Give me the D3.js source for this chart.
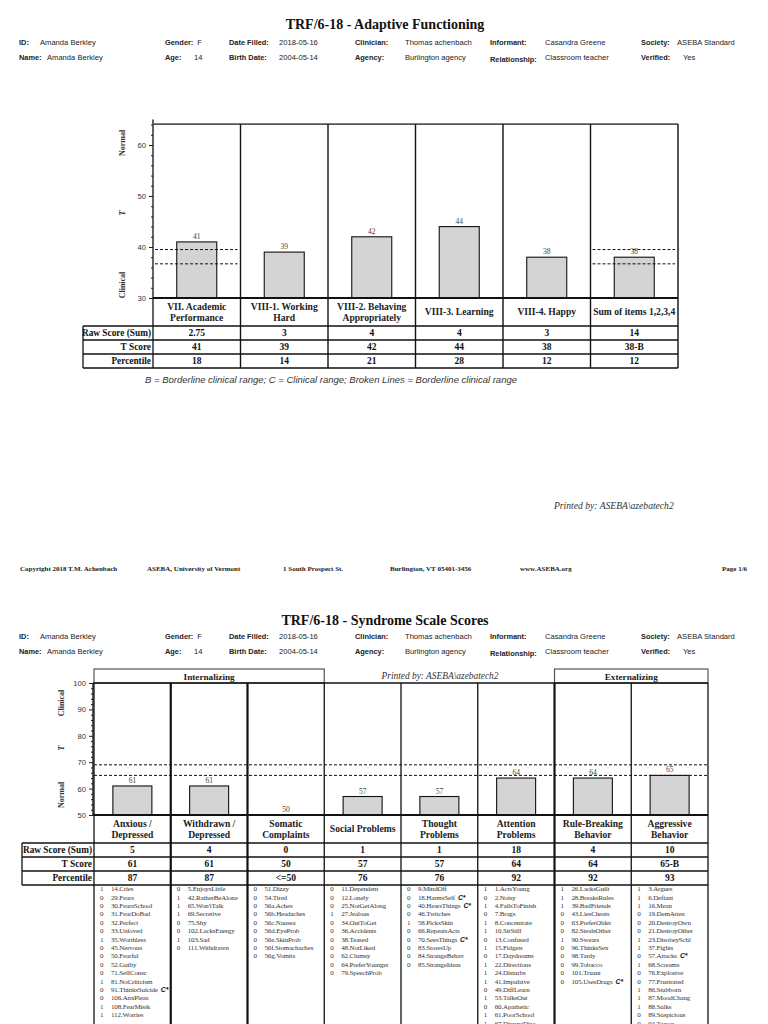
<!DOCTYPE html>
<html><head><meta charset="utf-8">
<script src="https://cdn.jsdelivr.net/npm/d3@7"></script>
<style>body{margin:0;background:#fff}svg{display:block}</style>
</head><body><svg id="c" width="768" height="1024"></svg>
<script>
// ---------------- DATA ----------------
const headerLabels1 = ["ID:","Gender:","Date Filled:","Clinician:","Informant:","Society:"];
const headerValues1 = ["Amanda Berkley","F","2018-05-16","Thomas achenbach","Casandra Greene","ASEBA Standard"];
const headerLabels2 = ["Name:","Age:","Birth Date:","Agency:","Relationship:","Verified:"];
const headerValues2 = ["Amanda Berkley","14","2004-05-14","Burlington agency","Classroom teacher","Yes"];
const rowLabels = ["Raw Score (Sum)","T Score","Percentile"];

const adaptiveCategories = [["VII. Academic","Performance"],["VIII-1. Working","Hard"],["VIII-2. Behaving","Appropriately"],["VIII-3. Learning"],["VIII-4. Happy"],["Sum of items 1,2,3,4"]];
const adaptiveT = [41,39,42,44,38,38];
const adaptiveRaw = ["2.75","3","4","4","3","14"];
const adaptiveTLabel = ["41","39","42","44","38","38-B"];
const adaptivePercentile = ["18","14","21","28","12","12"];
const adaptiveBorderline = [39.5,36.7];
const adaptiveBorderCols = [0,5];
const adaptiveTicks = [30,40,50,60];

const syndromeCategories = [["Anxious /","Depressed"],["Withdrawn /","Depressed"],["Somatic","Complaints"],["Social Problems"],["Thought","Problems"],["Attention","Problems"],["Rule-Breaking","Behavior"],["Aggressive","Behavior"]];
const syndromeT = [61,61,50,57,57,64,64,65];
const syndromeRaw = ["5","4","0","1","1","18","4","10"];
const syndromeTLabel = ["61","61","50","57","57","64","64","65-B"];
const syndromePercentile = ["87","87","<=50","76","76","92","92","93"];
const syndromeBorderline = [69,65];
const syndromeTicks = [50,60,70,80,90,100];
const groupNames = ["Internalizing","Externalizing"];
const groupSpans = [[0,3],[6,8]];

const itemsAnxDep = [["1","14.Cries"],["0","29.Fears"],["0","30.FearsSchool"],["0","31.FearDoBad"],["0","32.Perfect"],["0","33.Unloved"],["1","35.Worthless"],["0","45.Nervous"],["0","50.Fearful"],["0","52.Guilty"],["0","71.SelfConsc"],["1","81.NoCriticism"],["0","91.ThinksSuicide","C*"],["0","106.AnxPleas"],["1","108.FearMistk"],["1","112.Worries"]];
const itemsWithdrawn = [["0","5.EnjoysLittle"],["1","42.RatherBeAlone"],["1","65.Won'tTalk"],["1","69.Secretive"],["0","75.Shy"],["0","102.LacksEnergy"],["1","103.Sad"],["0","111.Withdrawn"]];
const itemsSomatic = [["0","51.Dizzy"],["0","54.Tired"],["0","56a.Aches"],["0","56b.Headaches"],["0","56c.Nausea"],["0","56d.EyeProb"],["0","56e.SkinProb"],["0","56f.Stomachaches"],["0","56g.Vomits"]];
const itemsSocial = [["0","11.Dependent"],["0","12.Lonely"],["0","25.NotGetAlong"],["1","27.Jealous"],["0","34.OutToGet"],["0","36.Accidents"],["0","38.Teased"],["0","48.NotLiked"],["0","62.Clumsy"],["0","64.PreferYounger"],["0","79.SpeechProb"]];
const itemsThought = [["0","9.MindOff"],["0","18.HarmsSelf","C*"],["0","40.HearsThings","C*"],["0","46.Twitches"],["1","58.PicksSkin"],["0","66.RepeatsActs"],["0","70.SeesThings","C*"],["0","83.StoresUp"],["0","84.StrangeBehav"],["0","85.StrangeIdeas"]];
const itemsAttention = [["1","1.ActsYoung"],["0","2.Noisy"],["1","4.FailsToFinish"],["0","7.Brags"],["1","8.Concentrate"],["1","10.SitStill"],["0","13.Confused"],["1","15.Fidgets"],["0","17.Daydreams"],["1","22.Directions"],["1","24.Disturbs"],["1","41.Impulsive"],["0","49.DiffLearn"],["1","53.TalksOut"],["0","60.Apathetic"],["1","61.PoorSchool"],["1","67.DisruptDisc"]];
const itemsRuleBreaking = [["1","26.LacksGuilt"],["1","28.BreaksRules"],["1","39.BadFriends"],["0","43.LiesCheats"],["0","63.PreferOlder"],["0","82.StealsOther"],["1","90.Swears"],["0","96.ThinksSex"],["0","98.Tardy"],["0","99.Tobacco"],["0","101.Truant"],["0","105.UsesDrugs","C*"]];
const itemsAggressive = [["1","3.Argues"],["1","6.Defiant"],["1","16.Mean"],["0","19.DemAtten"],["0","20.DestroyOwn"],["0","21.DestroyOther"],["1","23.DisobeySchl"],["1","37.Fights"],["0","57.Attacks","C*"],["1","68.Screams"],["0","76.Explosive"],["0","77.Frustrated"],["1","86.Stubborn"],["1","87.MoodChang"],["1","88.Sulks"],["0","89.Suspicious"],["0","94.Teases"]];
const syndromeItems = [itemsAnxDep,itemsWithdrawn,itemsSomatic,itemsSocial,itemsThought,itemsAttention,itemsRuleBreaking,itemsAggressive];

const footerTexts = ["Copyright 2018 T.M. Achenbach","ASEBA, University of Vermont","1 South Prospect St.","Burlington, VT 05401-3456","www.ASEBA.org","Page 1/6"];
const titles = ["TRF/6-18 - Adaptive Functioning","TRF/6-18 - Syndrome Scale Scores"];
const printedBy = "Printed by: ASEBA\\azebatech2";
const footnote = "B = Borderline clinical range; C = Clinical range; Broken Lines = Borderline clinical range";

// ---------------- DRAW ----------------
const SERIF = "'Liberation Serif','Times New Roman',serif";
const SANS = "'Liberation Sans',Arial,sans-serif";
const svg = d3.select("#c");
svg.append("rect").attr("width",768).attr("height",1024).attr("fill","#fff");

function header(g, yTitle, y1, y2, title){
  g.append("text").attr("x",385).attr("y",yTitle).attr("text-anchor","middle")
    .attr("font-family",SERIF).attr("font-weight","bold").attr("font-size",14).attr("fill","#111").text(title);
  const lx = [19,165,229,355,490,641];
  const vx = [[40,47],[194,194],[279,279],[405,405],[545,545],[677,683]];
  [[headerLabels1,headerValues1,y1],[headerLabels2,headerValues2,y2]].forEach(([L,V,y],r)=>{
    L.forEach((t,i)=>{
      const lab = g.append("text").attr("x",lx[i]).attr("y",y + (r===1&&i===4?1.5:0)).attr("font-family",SANS).attr("font-weight","bold")
        .attr("font-size",7.4).attr("fill","#222").text(t);
      const end = lx[i] + lab.node().getComputedTextLength() + 4;
      g.append("text").attr("x",Math.max(vx[i][r], end)).attr("y",y).attr("font-family",SANS)
        .attr("font-size",7.6).attr("fill","#222").text(V[i]);
    });
  });
}

function line(g,x1,y1,x2,y2,w,c,dash){
  const l = g.append("line").attr("x1",x1).attr("y1",y1).attr("x2",x2).attr("y2",y2)
    .attr("stroke",c||"#111").attr("stroke-width",w||1);
  if(dash) l.attr("stroke-dasharray",dash);
  return l;
}

function table(g, x0, xLeft, xRight, xScale, n, yTop, rowH, rows){
  rows.forEach((vals,r)=>{
    const yc = yTop + rowH*r + rowH/2 + 3.3;
    g.append("text").attr("x",xLeft-2).attr("y",yc).attr("text-anchor","end")
      .attr("font-family",SERIF).attr("font-weight","bold").attr("font-size",9.3).attr("fill","#111").text(rowLabels[r]);
    vals.forEach((v,i)=>{
      g.append("text").attr("x",xScale(i)+xScale.bandwidth()/2).attr("y",yc).attr("text-anchor","middle")
        .attr("font-family",SERIF).attr("font-weight","bold").attr("font-size",9.5).attr("fill","#111").text(v);
    });
  });
  for(let r=0;r<=3;r++) line(g,x0,yTop+rowH*r,xRight,yTop+rowH*r,1.3);
  line(g,x0,yTop,x0,yTop+rowH*3,1.3);
}

// ===== Page 1: Adaptive =====
const p1 = svg.append("g");
header(p1, 29, 45, 60, titles[0]);
const yA = d3.scaleLinear().domain([30,65]).range([298,119.5]);
const xA = d3.scaleBand().domain(d3.range(adaptiveT.length)).range([153,678]);
const topA = yA(64.1), botA = yA(30), labA = 326, rowHA = 14;

const axA = p1.append("g").attr("transform","translate(153,0)");
axA.call(d3.axisLeft(yA).tickValues(adaptiveTicks).tickSize(4).tickSizeOuter(0).tickPadding(3));
axA.append("g").call(d3.axisLeft(yA).tickValues(d3.range(32,65,2).filter(v=>v%10)).tickSize(2).tickFormat(""));
axA.selectAll("path.domain").remove();
axA.selectAll("line").attr("stroke","#222");
axA.selectAll("text").attr("font-family",SANS).attr("font-size",7.6).attr("fill","#333");
line(p1,153,yA(65),153,labA+rowHA*3,1.3);

[["Normal",125,143,"normal"],["T",125,213,"italic"],["Clinical",125,285,"normal"]].forEach(([t,x,y,st])=>{
  p1.append("text").attr("transform",`translate(${x},${y}) rotate(-90)`).attr("text-anchor","middle")
    .attr("font-family",SERIF).attr("font-weight","bold").attr("font-style",st).attr("font-size",8).attr("fill","#333").text(t);
});

line(p1,153,topA,678,topA,1.6,"#555");
for(let i=1;i<=adaptiveT.length;i++){
  const x = i<adaptiveT.length? xA(i) : 678;
  line(p1,x,topA,x,labA+rowHA*3,1.4);
}
const bwA = 40;
p1.selectAll("rect.bar").data(adaptiveT).join("rect").attr("class","bar")
  .attr("x",(d,i)=>xA(i)+xA.bandwidth()/2-bwA/2).attr("y",d=>yA(d)).attr("width",bwA).attr("height",d=>botA-yA(d))
  .attr("fill","#d4d4d4").attr("stroke","#111").attr("stroke-width",1.1);
p1.selectAll("text.val").data(adaptiveT).join("text").attr("class","val")
  .attr("x",(d,i)=>xA(i)+xA.bandwidth()/2).attr("y",d=>yA(d)-3).attr("text-anchor","middle")
  .attr("font-family",SERIF).attr("font-size",7.5).attr("fill","#444").text(d=>d);
adaptiveBorderCols.forEach(i=>{
  adaptiveBorderline.forEach(v=>{
    line(p1,xA(i)+2,yA(v),xA(i)+xA.bandwidth()-3,yA(v),1,"#111","3,2");
  });
});
line(p1,153,botA,678,botA,2);
adaptiveCategories.forEach((lines,i)=>{
  const cx = xA(i)+xA.bandwidth()/2;
  const y0 = lines.length===1 ? 315 : 309.5;
  lines.forEach((t,k)=>{
    p1.append("text").attr("x",cx).attr("y",y0+k*11.5).attr("text-anchor","middle")
      .attr("font-family",SERIF).attr("font-weight","bold").attr("font-size",9.6).attr("fill","#222").text(t);
  });
});
table(p1,83,153,678,xA,6,labA,rowHA,[adaptiveRaw,adaptiveTLabel,adaptivePercentile]);
p1.append("text").attr("x",145).attr("y",383).attr("font-family",SANS).attr("font-style","italic")
  .attr("font-size",8.4).attr("textLength",372).attr("lengthAdjust","spacingAndGlyphs").attr("fill","#333").text(footnote);
p1.append("text").attr("x",554).attr("y",509).attr("font-family",SERIF).attr("font-style","italic")
  .attr("font-size",9.6).attr("fill","#333").text(printedBy);
const fx = [20,147,283,390,520,722];
footerTexts.forEach((t,i)=>{
  p1.append("text").attr("x",fx[i]).attr("y",571).attr("font-family",SERIF).attr("font-weight","bold")
    .attr("font-size",7).attr("fill","#222").text(t);
});

// ===== Page 2: Syndrome =====
const p2 = svg.append("g");
header(p2, 625, 639, 654, titles[1]);
const yB = d3.scaleLinear().domain([50,100]).range([815,683]);
const xB = d3.scaleBand().domain(d3.range(syndromeT.length)).range([94,708]);
const topB = yB(100), botB = yB(50), labB = 843, rowHB = 14, itemTop = labB+rowHB*3;

const axB = p2.append("g").attr("transform","translate(93,0)");
axB.call(d3.axisLeft(yB).tickValues(syndromeTicks).tickSize(4).tickSizeOuter(0).tickPadding(3));
axB.append("g").call(d3.axisLeft(yB).tickValues(d3.range(52,100,2).filter(v=>v%10)).tickSize(2).tickFormat(""));
axB.selectAll("path.domain").remove();
axB.selectAll("line").attr("stroke","#222");
axB.selectAll("text").attr("font-family",SANS).attr("font-size",7.6).attr("fill","#333");
line(p2,93,topB,93,botB,1.3);

[["Clinical",64,703,"normal"],["T",64,748,"italic"],["Normal",64,795,"normal"]].forEach(([t,x,y,st])=>{
  p2.append("text").attr("transform",`translate(${x},${y}) rotate(-90)`).attr("text-anchor","middle")
    .attr("font-family",SERIF).attr("font-weight","bold").attr("font-style",st).attr("font-size",8).attr("fill","#333").text(t);
});

groupSpans.forEach(([a,b],k)=>{
  const x1 = xB(a), x2 = b<syndromeT.length? xB(b) : 708;
  p2.append("rect").attr("x",x1).attr("y",669).attr("width",x2-x1).attr("height",topB-669)
    .attr("fill","none").attr("stroke","#555").attr("stroke-width",1.2);
  p2.append("text").attr("x",(x1+x2)/2).attr("y",679.5).attr("text-anchor","middle")
    .attr("font-family",SERIF).attr("font-weight","bold").attr("font-size",9.2).attr("fill","#222").text(groupNames[k]);
});
p2.append("text").attr("x",440).attr("y",679).attr("text-anchor","middle").attr("font-family",SERIF).attr("font-style","italic")
  .attr("font-size",9.4).attr("fill","#333").text(printedBy);

line(p2,93,topB,708,topB,1.4);
for(let i=0;i<=syndromeT.length;i++){
  const x = i<syndromeT.length? xB(i) : 708;
  const w = (i===1||i===2||i===6)?2.2:1.3;
  line(p2,x,topB,x,1024,w);
}
syndromeBorderline.forEach(v=>line(p2,94,yB(v),708,yB(v),1,"#111","3,2"));
const bwB = 39;
p2.selectAll("rect.bar").data(syndromeT).join("rect").attr("class","bar")
  .attr("x",(d,i)=>xB(i)+xB.bandwidth()/2-bwB/2).attr("y",d=>yB(d)).attr("width",bwB).attr("height",d=>botB-yB(d))
  .attr("fill","#d4d4d4").attr("stroke","#111").attr("stroke-width",1.1);
p2.selectAll("text.val").data(syndromeT).join("text").attr("class","val")
  .attr("x",(d,i)=>xB(i)+xB.bandwidth()/2).attr("y",d=>yB(d)-3).attr("text-anchor","middle")
  .attr("font-family",SERIF).attr("font-size",7.5).attr("fill","#444").text(d=>d);
line(p2,93,botB,708,botB,2);
syndromeCategories.forEach((lines,i)=>{
  const cx = xB(i)+xB.bandwidth()/2;
  const y0 = lines.length===1 ? 832 : 827;
  lines.forEach((t,k)=>{
    p2.append("text").attr("x",cx).attr("y",y0+k*11).attr("text-anchor","middle")
      .attr("font-family",SERIF).attr("font-weight","bold").attr("font-size",9.6).attr("fill","#222").text(t);
  });
});
table(p2,22,94,708,xB,8,labB,rowHB,[syndromeRaw,syndromeTLabel,syndromePercentile]);

// items (last row is cut by the page edge, as in the reference)
syndromeItems.forEach((items,i)=>{
  const x0 = xB(i);
  items.forEach((it,k)=>{
    const y = itemTop + 6.2 + k*8.4;
    p2.append("text").attr("x",x0+6).attr("y",y).attr("font-family",SERIF).attr("font-size",7).attr("fill","#333").text(it[0]);
    const t = p2.append("text").attr("x",x0+17).attr("y",y).attr("font-family",SERIF).attr("font-size",7)
      .attr("letter-spacing",-0.15).attr("fill","#333").text(it[1]);
    if(it[2]){
      const w = t.node().getComputedTextLength();
      p2.append("text").attr("x",x0+17+w+3).attr("y",y).attr("font-family",SANS).attr("font-weight","bold").attr("font-style","italic")
        .attr("font-size",6.8).attr("fill","#111").text(it[2]);
    }
  });
});
</script></body></html>
